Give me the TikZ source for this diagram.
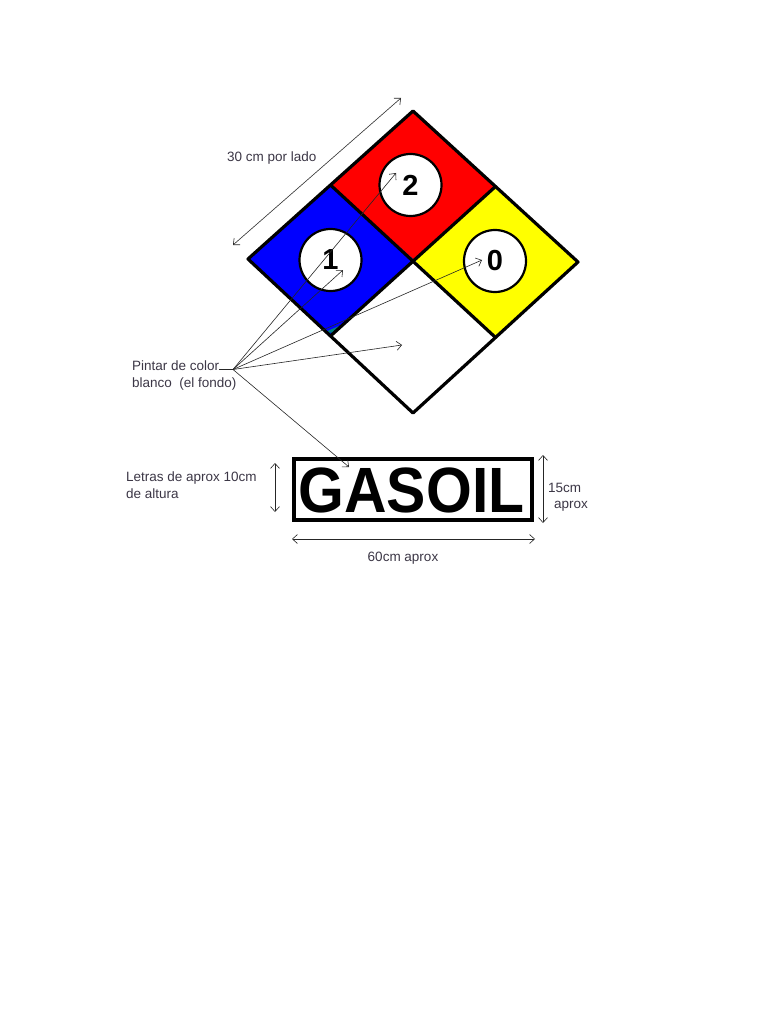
\documentclass[tikz,border=0pt]{standalone}
\usepackage{fontspec}
\setmainfont{Liberation Sans}
\newfontfamily\boldsans{Liberation Sans Bold}
\usetikzlibrary{arrows.meta}
\definecolor{nred}{RGB}{255,0,0}
\definecolor{nblue}{RGB}{0,0,255}
\definecolor{nyellow}{RGB}{255,255,0}
\definecolor{nteal}{RGB}{0,128,128}
\definecolor{txt}{RGB}{60,55,70}
\tikzset{
  every node/.style={inner sep=0pt, outer sep=0pt},
  lbl/.style={font=\fontsize{13.5}{15}\selectfont, text=txt, anchor=west},
  num/.style={circle, draw=black, line width=2.2pt, fill=white, minimum size=62pt,
              font=\fontsize{29}{30}\selectfont\boldsans},
  pointer/.style={draw=black!85, line width=0.6pt, -{Straight Barb[length=5pt,width=9pt,line width=0.6pt]}},
  dimarrow/.style={draw=black!85, line width=0.6pt, {Straight Barb[length=5pt,width=9pt,line width=0.6pt]}-{Straight Barb[length=5pt,width=9pt,line width=0.6pt]}},
  edge3/.style={line width=3.2pt, line join=round}
}
\begin{document}
\begin{tikzpicture}[x=1pt,y=-1pt]
\useasboundingbox[fill=white] (0,0) rectangle (768,1024);
% diamond corners
\coordinate (T) at (413,111);
\coordinate (L) at (248,259);
\coordinate (R) at (578,262);
\coordinate (B) at (413,413);
\coordinate (C) at (414,260);
\coordinate (TL) at (330.5,185);
\coordinate (TR) at (495.5,186.5);
\coordinate (BL) at (330.5,336);
\coordinate (BR) at (495.5,337.5);
% quadrants
\fill[nred] (T) -- (TR) -- (C) -- (TL) -- cycle;
\fill[nblue] (TL) -- (C) -- (BL) -- (L) -- cycle;
\fill[nyellow] (TR) -- (R) -- (BR) -- (C) -- cycle;
\fill[white] (C) -- (BR) -- (B) -- (BL) -- cycle;
\fill[nteal] (325,332) -- (339,326) -- (334,333) -- cycle;
\draw[edge3] (T) -- (R) -- (B) -- (L) -- cycle;
\draw[edge3] (TL) -- (BR);
\draw[edge3] (TR) -- (BL);
% circles
\node[num] (c2) at (410.5,185) {\raisebox{-1.5pt}{2}};
\node[num] (c1) at (330.5,260) {\raisebox{-1.5pt}{1}};
\node[num] (c0) at (495,261) {\raisebox{-1pt}{0}};
% size arrow
\coordinate (s1) at (233,245);
\coordinate (s2) at (401,98);
\draw[dimarrow] (s1) -- (s2);
\node[lbl] (side) at (227,158) {30 cm por lado};
% paint labels
\node[lbl] (p1) at (132,366) {Pintar de color};
\node[lbl] (p2) at (132,384) {blanco\ \ (el fondo)};
\coordinate (O) at (233,369.5);
\draw[black!85, line width=0.7pt] (p1.east |- O) -- (O);
\coordinate (a2) at (396,173);
\coordinate (a1) at (343,270);
\coordinate (a0) at (482,260);
\coordinate (aw) at (402,345);
\coordinate (ag) at (349,467);
\draw[pointer] (O) -- (a2);
\draw[pointer] (O) -- (a1);
\draw[pointer] (O) -- (a0);
\draw[pointer] (O) -- (aw);
% GASOIL box
\node[draw=black, line width=4pt, minimum width=238pt, minimum height=61pt, fill=white] (box) at (413,489) {};
\node[font=\fontsize{64}{66}\selectfont\boldsans] (gasoil) at (411.5,490) {\scalebox{0.92}[1]{GASOIL}};
\draw[pointer] (O) -- (ag);
% dimensions
\node[lbl] (let1) at (126,478) {Letras de aprox 10cm};
\node[lbl] (let2) at (126,494) {de altura};
\coordinate (v1a) at (275,463);
\coordinate (v1b) at (275,512);
\draw[dimarrow] (v1a) -- (v1b);
\coordinate (v2a) at (543,455);
\coordinate (v2b) at (543,523);
\draw[dimarrow] (v2a) -- (v2b);
\node[lbl] (h1) at (548,488) {15cm};
\node[lbl] (h2) at (554,506) {aprox};
\coordinate (w1) at (292,539);
\coordinate (w2) at (535,539);
\draw[dimarrow] (w1) -- (w2);
\node[lbl, anchor=center] (wl) at (403,558) {60cm aprox};
\end{tikzpicture}
\end{document}
